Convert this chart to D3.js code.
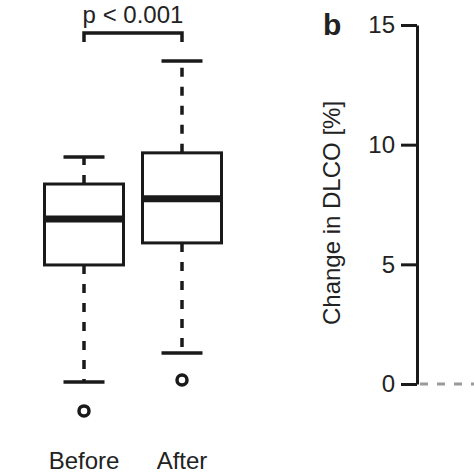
<!DOCTYPE html>
<html>
<head>
<meta charset="utf-8">
<script src="https://cdn.jsdelivr.net/npm/d3@7"></script>
<style>
  html, body { margin: 0; padding: 0; background: #fff; }
  svg { display: block; }
  text { font-family: "Liberation Sans", Arial, Helvetica, sans-serif; fill: #222; }
</style>
</head>
<body>
<script>
// panel a: box plot stats (axis is cropped off)
var groups = ["Before", "After"];
var whiskerLow = [4.0, 4.76];
var q1 = [7.08, 7.66];
var medians = [8.29, 8.82];
var q3 = [9.21, 10.03];
var whiskerHigh = [9.92, 12.45];
var outliers = [[3.24], [4.05]];
var pLabel = "p < 0.001";

// panel b: axis ticks
var bTicks = [0, 5, 10, 15];
var refLine = [0];

var width = 474, height = 474;
var ink = "#1a1a1a";

var svg = d3.select("body").append("svg")
  .attr("width", width)
  .attr("height", height);

// ---- panel a ----
var x = d3.scalePoint()
  .domain(groups)
  .range([84, 182]);

var y = d3.scaleLinear()
  .domain([3, 13])
  .range([420, 40]);

var boxes = svg.append("g").attr("id", "boxes");

var bw = 79;
var capW = 41;

groups.forEach(function(g, i) {
  var cx = x(g);
  var grp = boxes.append("g");

  // whiskers (dashed)
  grp.append("line")
    .attr("x1", cx).attr("x2", cx)
    .attr("y1", y(q3[i])).attr("y2", y(whiskerHigh[i]))
    .style("stroke", ink).style("stroke-width", 3.5)
    .style("stroke-dasharray", "9,10");
  grp.append("line")
    .attr("x1", cx).attr("x2", cx)
    .attr("y1", y(q1[i])).attr("y2", y(whiskerLow[i]))
    .style("stroke", ink).style("stroke-width", 3.5)
    .style("stroke-dasharray", "9,10");

  // caps
  [whiskerLow[i], whiskerHigh[i]].forEach(function(v) {
    grp.append("line")
      .attr("x1", cx - capW / 2).attr("x2", cx + capW / 2)
      .attr("y1", y(v)).attr("y2", y(v))
      .style("stroke", ink).style("stroke-width", 3.5);
  });

  // box
  grp.append("rect")
    .attr("x", cx - bw / 2)
    .attr("y", y(q3[i]))
    .attr("width", bw)
    .attr("height", y(q1[i]) - y(q3[i]))
    .style("fill", "white")
    .style("stroke", ink)
    .style("stroke-width", 3);

  // median
  grp.append("line")
    .attr("x1", cx - bw / 2).attr("x2", cx + bw / 2)
    .attr("y1", y(medians[i])).attr("y2", y(medians[i]))
    .style("stroke", ink).style("stroke-width", 7);

  // outliers
  grp.selectAll("circle")
    .data(outliers[i])
    .enter().append("circle")
    .attr("cx", cx)
    .attr("cy", function(d) { return y(d); })
    .attr("r", 5)
    .style("fill", "white")
    .style("stroke", ink)
    .style("stroke-width", 3.5);

  // category label
  svg.append("text")
    .attr("x", cx)
    .attr("y", 469)
    .attr("text-anchor", "middle")
    .style("font-size", "24px")
    .text(g);
});

// significance bracket
var bx1 = x(groups[0]);
var bx2 = x(groups[1]);
svg.append("path")
  .attr("d", "M" + bx1 + ",42V33H" + bx2 + "V42")
  .style("fill", "none")
  .style("stroke", ink)
  .style("stroke-width", 3.5);

svg.append("text")
  .attr("x", (bx1 + bx2) / 2)
  .attr("y", 23)
  .attr("text-anchor", "middle")
  .style("font-size", "24px")
  .text(pLabel);

// ---- panel b ----
var yb = d3.scaleLinear()
  .domain([0, 15])
  .range([384, 25]);

var axisX = 417;

// reference line at 0
svg.selectAll(".ref")
  .data(refLine)
  .enter().append("line")
  .attr("class", "ref")
  .attr("x1", axisX + 3)
  .attr("x2", width + 10)
  .attr("y1", function(d) { return yb(d); })
  .attr("y2", function(d) { return yb(d); })
  .style("stroke", "#9a9a9a")
  .style("stroke-width", 3)
  .style("stroke-dasharray", "8,9");

var axis = svg.append("g")
  .attr("transform", "translate(" + axisX + ",0)")
  .call(d3.axisLeft(yb).tickValues(bTicks).tickSize(16).tickPadding(6).tickSizeOuter(0));

axis.select(".domain")
  .attr("stroke", ink)
  .attr("stroke-width", 3);
axis.selectAll(".tick line")
  .attr("stroke", ink)
  .attr("stroke-width", 3);
axis.selectAll(".tick text")
  .attr("fill", "#222")
  .style("font-family", "'Liberation Sans', Arial, Helvetica, sans-serif")
  .style("font-size", "24px");

svg.append("text")
  .attr("transform", "translate(340,213) rotate(-90)")
  .attr("text-anchor", "middle")
  .style("font-size", "24px")
  .text("Change in DLCO [%]");

svg.append("text")
  .attr("x", 323)
  .attr("y", 35)
  .style("font-size", "30px")
  .style("font-weight", "bold")
  .text("b");
</script>
</body>
</html>
